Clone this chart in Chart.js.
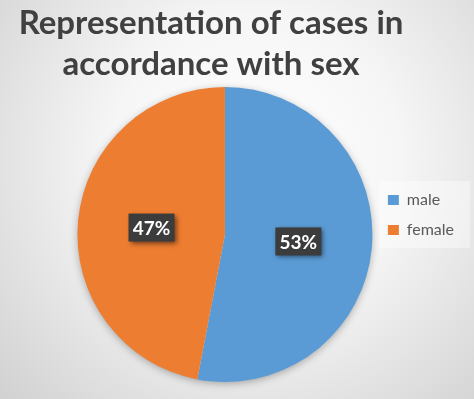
<!DOCTYPE html>
<html lang="en">
<head>
    <meta charset="UTF-8">
    <title>Representation of cases in accordance with sex</title>
    <script src="https://cdn.jsdelivr.net/npm/chart.js"></script>
    <style>
        body { margin: 0; background: #fff; }
        canvas { display: block; }
    </style>
</head>
<body>
    <canvas id="sexChart" width="474" height="399"></canvas>
    <script>
        const categories = ['male', 'female'];
        const shares = [53, 47];
        const sliceColors = ['#5B9BD5', '#ED7D31'];
        const titleLines = ['Representation of cases in', 'accordance with sex'];

        // gradient background, pie shadow and the title
        const backdrop = {
            id: 'backdrop',
            beforeDraw(chart) {
                const ctx = chart.ctx;
                const g = ctx.createRadialGradient(255, 160, 0, 255, 160, 360);
                g.addColorStop(0, '#ffffff');
                g.addColorStop(0.4, '#f6f6f6');
                g.addColorStop(1, '#cfcfcf');
                ctx.save();
                ctx.fillStyle = g;
                ctx.fillRect(0, 0, chart.width, chart.height);

                // soft panel behind the legend
                const boxes = chart.legend.legendHitBoxes;
                if (boxes && boxes.length) {
                    const first = boxes[0], last = boxes[boxes.length - 1];
                    ctx.fillStyle = 'rgba(255,255,255,0.4)';
                    ctx.fillRect(first.left - 9, first.top - 11, 470 - (first.left - 9), last.top + last.height + 10 - (first.top - 11));
                }

                ctx.fillStyle = '#404040';
                ctx.font = 'bold 33px Lato';
                ctx.textAlign = 'center';
                ctx.textBaseline = 'alphabetic';
                ctx.fillText(titleLines[0], 211, 34);
                ctx.fillText(titleLines[1], 211, 75);
                ctx.restore();
            },
            beforeDatasetsDraw(chart) {
                const arc = chart.getDatasetMeta(0).data[0];
                const ctx = chart.ctx;
                ctx.save();
                ctx.shadowColor = 'rgba(0,0,0,0.35)';
                ctx.shadowBlur = 8;
                ctx.shadowOffsetY = 2;
                ctx.fillStyle = '#d8d8d8';
                ctx.beginPath();
                ctx.arc(arc.x, arc.y, arc.outerRadius - 1, 0, Math.PI * 2);
                ctx.fill();
                ctx.restore();
            }
        };

        // dark boxed percentage labels
        const pctLabels = {
            id: 'pctLabels',
            afterDatasetsDraw(chart) {
                const ctx = chart.ctx;
                const meta = chart.getDatasetMeta(0);
                meta.data.forEach((arc, i) => {
                    const p = arc.tooltipPosition();
                    const w = 46, h = 28;
                    ctx.save();
                    ctx.shadowColor = 'rgba(0,0,0,0.55)';
                    ctx.shadowBlur = 5;
                    ctx.shadowOffsetX = 2;
                    ctx.shadowOffsetY = 2;
                    ctx.fillStyle = '#3c3c3c';
                    ctx.fillRect(p.x - w / 2, p.y - h / 2, w, h);
                    ctx.restore();
                    ctx.save();
                    ctx.fillStyle = '#ffffff';
                    ctx.font = 'bold 19px Lato';
                    ctx.textAlign = 'center';
                    ctx.textBaseline = 'middle';
                    ctx.fillText(shares[i] + '%', p.x, p.y + 1);
                    ctx.restore();
                });
            }
        };

        new Chart(document.getElementById('sexChart'), {
            type: 'pie',
            data: {
                labels: categories,
                datasets: [{
                    data: shares,
                    backgroundColor: sliceColors,
                    borderWidth: 0
                }]
            },
            options: {
                responsive: false,
                devicePixelRatio: 1,
                animation: false,
                layout: {
                    padding: { top: 87, bottom: 17, left: 76, right: 10 }
                },
                plugins: {
                    tooltip: { enabled: false },
                    legend: {
                        position: 'right',
                        align: 'start',
                        title: {
                            display: true,
                            text: ' ',
                            font: { size: 10 },
                            padding: { top: 0, bottom: 79 }
                        },
                        labels: {
                            boxWidth: 11,
                            boxHeight: 10,
                            padding: 14,
                            color: '#595959',
                            font: { family: 'Lato', size: 16 }
                        }
                    }
                }
            },
            plugins: [backdrop, pctLabels]
        });
    </script>
</body>
</html>
